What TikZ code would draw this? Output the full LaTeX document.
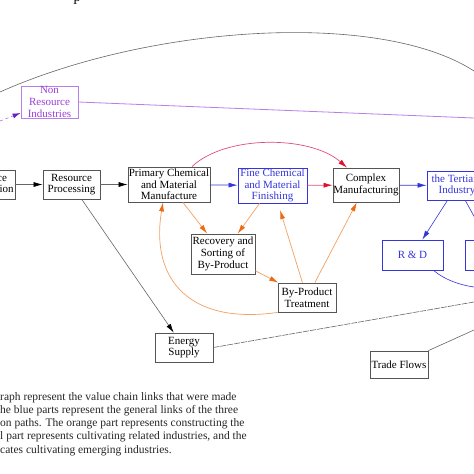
\documentclass[tikz,border=0pt]{standalone}
\usepackage{fontspec}
\setmainfont{Liberation Serif}
\usetikzlibrary{arrows.meta}
\definecolor{cblue}{HTML}{3535DD}
\definecolor{cpurp}{HTML}{9B3FD9}
\definecolor{cpurpline}{HTML}{B680E8}
\definecolor{cpurpdark}{HTML}{6A1FC0}
\definecolor{corange}{HTML}{F4A062}
\definecolor{corangetip}{HTML}{EE6A10}
\definecolor{cred}{HTML}{E0507A}
\definecolor{credtip}{HTML}{E01030}
\definecolor{cgray}{HTML}{555555}
\definecolor{cline}{HTML}{666666}
\begin{document}
\begin{tikzpicture}[x=1pt,y=-1pt,
  box/.style={draw=cgray,line width=0.8pt,align=center,inner sep=0pt,
    font=\fontsize{11}{11.7}\selectfont,text=black},
  bluebox/.style={box,draw=cblue,text=cblue},
  purpbox/.style={box,draw=cpurpline,text=cpurp},
  blk/.style={draw=cline,line width=0.6pt,-{Latex[length=9pt,width=5pt,color=black]}},
  bluearr/.style={draw=cblue,line width=0.7pt,-{Latex[length=9pt,width=5pt,color=cblue]}},
  redarr/.style={draw=cred,line width=0.7pt,-{Latex[length=9pt,width=5pt,color=credtip]}},
  orarr/.style={draw=corange,line width=0.7pt,-{Latex[length=9pt,width=5pt,color=corangetip]}},
  plain/.style={draw=cline,line width=0.6pt},
  captxt/.style={anchor=base west,inner sep=0pt,font=\fontsize{11.5}{12}\selectfont,text=black!85}
]
\useasboundingbox (0,0) rectangle (474,474);
\fill[white] (0,0) rectangle (474,474);

% fragment at top
\node[anchor=base,inner sep=0pt,font=\fontsize{14}{14}\selectfont] (frag) at (77,1.5) {p};

% nodes
\node[purpbox,minimum width=57pt,minimum height=32pt] (nri) at (49.5,102) {Non\\Resource\\Industries};
\node[box,minimum width=57pt,minimum height=29pt] (lft) at (-13.5,184.5) {Resource\\Exploitation};
\node[box,minimum width=57pt,minimum height=29pt] (rp) at (71.5,184.5) {Resource\\Processing};
\node[box,minimum width=82pt,minimum height=35pt] (pcm) at (169,184.5) {Primary Chemical\\and Material\\Manufacture};
\node[bluebox,minimum width=69pt,minimum height=35pt] (fcm) at (272.5,185.5) {Fine Chemical\\and Material\\Finishing};
\node[box,minimum width=66pt,minimum height=34pt] (cm) at (366,185) {Complex\\Manufacturing};
\node[bluebox,minimum width=60pt,minimum height=29pt] (ter) at (457,185.5) {the Tertiary\\Industry};
\node[bluebox,minimum width=61pt,minimum height=30pt] (rd) at (412.5,255) {R \& D};
\node[bluebox,minimum width=61pt,minimum height=30pt] (oth) at (495.5,255) {};
\node[box,minimum width=64pt,minimum height=40pt] (rec) at (223,254) {Recovery and\\Sorting of\\By-Product};
\node[box,minimum width=58pt,minimum height=29pt] (bpt) at (307,297.5) {By-Product\\Treatment};
\node[box,minimum width=58pt,minimum height=29pt] (es) at (184,347.5) {Energy\\Supply};
\node[box,minimum width=58pt,minimum height=27pt] (tf) at (399,364.5) {Trade Flows};

% free ends
\coordinate (arcL) at (0,92);
\coordinate (arcR) at (474,71);
\coordinate (purpR) at (474,118);
\coordinate (purpL) at (0,121);
\coordinate (esR) at (474,302);
\coordinate (tfR) at (474,330);
\coordinate (rdR) at (474,287);

% top arc
\draw[plain] (arcL) .. controls (150,25) and (380,10) .. (arcR);
% purple links
\draw[draw=cpurpline,line width=0.8pt] (nri.east) -- (purpR);
\draw[draw=cpurpline,line width=0.7pt,dashed,-{Latex[length=8pt,width=5pt,color=cpurpdark]}] (purpL) -- ([yshift=-11pt]nri.west);

% main chain
\draw[blk] (lft) -- (rp);
\draw[blk] (rp) -- (pcm);
\draw[bluearr] (pcm) -- (fcm);
\draw[redarr] (fcm) -- (cm);
\draw[bluearr] (cm) -- (ter);
\draw[redarr] ([xshift=23pt]pcm.north) .. controls (225,135) and (310,135) .. ([xshift=-19pt]cm.north);

% tertiary
\draw[draw=cblue,line width=0.6pt,-{Latex[length=9pt,width=5pt,color=cblue]}] (ter) -- (rd);
\draw[draw=cblue,line width=0.6pt] (ter) -- (oth);
\draw[draw=cblue,line width=0.6pt] ([xshift=21pt]rd.south) .. controls (445,280) and (460,285) .. (rdR);

% energy & trade
\draw[blk] (rp) -- (es);
\draw[plain,dashed,dash pattern=on 6pt off 1pt] (es.east) -- (esR);
\draw[plain] (tf.north east) -- (tfR);

% orange
\draw[orarr] (pcm) -- (rec);
\draw[orarr] (fcm) -- (rec);
\draw[orarr] (rec) -- (bpt);
\draw[orarr,shorten >=7pt] (bpt) -- (fcm);
\draw[orarr] (bpt) -- (cm);
\draw[orarr] (bpt.south west) .. controls (190,325) and (150,280) .. ([xshift=-6pt]pcm.south);

% caption
\node[captxt] (c1) at (0,400) {raph represent the value chain links that were made};
\node[captxt] (c2) at (0,413.5) {he blue parts represent the general links of the three};
\node[captxt] (c3) at (0,426.5) {on paths. The orange part represents constructing the};
\node[captxt] (c4) at (0,439.5) {l part represents cultivating related industries, and the};
\node[captxt] (c5) at (0,453) {cates cultivating emerging industries.};
\end{tikzpicture}
\end{document}
